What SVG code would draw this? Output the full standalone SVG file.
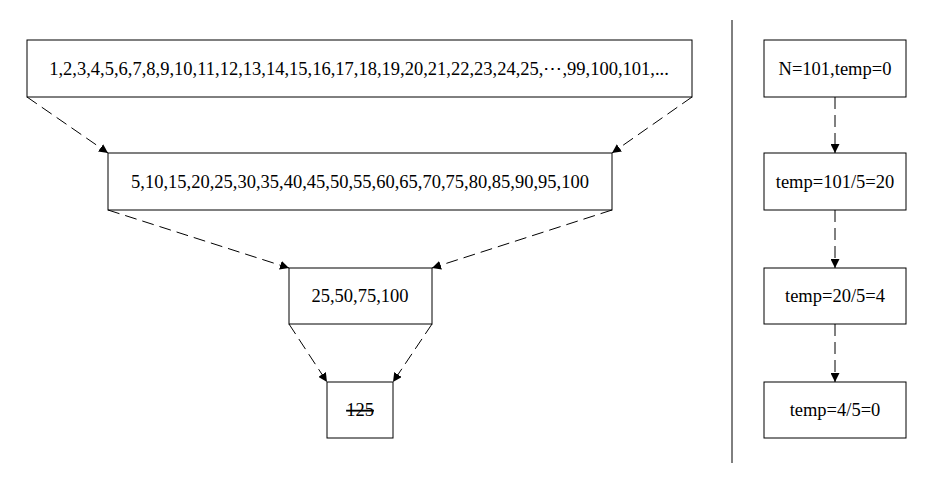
<svg xmlns="http://www.w3.org/2000/svg" width="936" height="490" viewBox="0 0 936 490">
<style>
rect{fill:#fff;stroke:#000;stroke-width:1}
text{font-family:"Liberation Serif",serif;font-size:18.5px;text-anchor:middle;fill:#000}
.c line{stroke:#000;stroke-width:1;stroke-dasharray:12,6;marker-end:url(#a)}
</style>
<defs><marker id="a" viewBox="0 0 10 10" refX="10" refY="5" markerWidth="9" markerHeight="9" markerUnits="userSpaceOnUse" orient="auto"><path d="M0,0L10,5L0,10z" fill="#000"/></marker></defs>
<rect width="936" height="490" style="stroke:none"/>
<line x1="732" y1="20" x2="732" y2="463" stroke="#000"/>
<g id="n1"><rect x="27" y="40" width="665" height="57"/><text x="359" y="75">1,2,3,4,5,6,7,8,9,10,11,12,13,14,15,16,17,18,19,20,21,22,23,24,25,⋯,99,100,101,...</text></g>
<g id="n2"><rect x="108" y="153" width="504" height="57"/><text x="360" y="188">5,10,15,20,25,30,35,40,45,50,55,60,65,70,75,80,85,90,95,100</text></g>
<g id="n3"><rect x="289" y="268" width="143" height="56"/><text x="360" y="302">25,50,75,100</text></g>
<g id="n4"><rect x="327" y="382" width="66" height="56"/><text x="360" y="416" text-decoration="line-through">125</text></g>
<g id="r1"><rect x="764" y="40" width="142" height="57"/><text x="835" y="75">N=101,temp=0</text></g>
<g id="r2"><rect x="764" y="153" width="142" height="57"/><text x="835" y="188">temp=101/5=20</text></g>
<g id="r3"><rect x="764" y="268" width="142" height="56"/><text x="835" y="302">temp=20/5=4</text></g>
<g id="r4"><rect x="764" y="382" width="142" height="56"/><text x="835" y="416">temp=4/5=0</text></g>
<g class="c">
<line x1="27" y1="97" x2="108" y2="153"/>
<line x1="692" y1="97" x2="612" y2="153"/>
<line x1="108" y1="210" x2="289" y2="268"/>
<line x1="612" y1="210" x2="432" y2="268"/>
<line x1="289" y1="324" x2="327" y2="382"/>
<line x1="432" y1="324" x2="393" y2="382"/>
<line x1="835" y1="97" x2="835" y2="153"/>
<line x1="835" y1="210" x2="835" y2="268"/>
<line x1="835" y1="324" x2="835" y2="382"/>
</g>
</svg>
